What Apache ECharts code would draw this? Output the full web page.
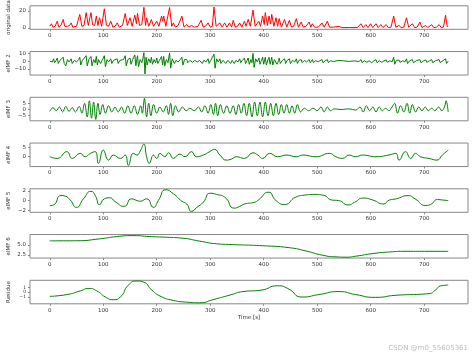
<!DOCTYPE html>
<html><head><meta charset="utf-8">
<script src="https://cdn.jsdelivr.net/npm/echarts@6/dist/echarts.min.js"></script>
<style>html,body{margin:0;padding:0;background:#fff}#c{width:474px;height:355px}</style>
</head><body><div id="c"></div>
<script>
const xTicks = [0,100,200,300,400,500,600,700];
const panelNames = ['original data','eIMF 2','eIMF 3','eIMF 4','eIMF 5','eIMF 6','Residue'];
const yRanges = [[-1.5,26],[-17.8,12.3],[-9.1,9.8],[-5.2,7.25],[-2.4,2.4],[1.75,7.5],[-2.5,2.5]];
const yTicks = [[0,20],[-10,0,10],[-5,0,5],[0,5],[-2,0,2],[2.5,5.0],[-2,-1,0,1,2]];

const originalData = [[0,2],[3,5],[6,1],[10,2],[14,8],[17,1],[21,3],[25,10],[28,2],[33,2],[37,3],[40,6],[43,1],[50,2],[56,16],[60,2],[64,3],[68,18],[72,3],[77,18],[80,4],[84,3],[87,14],[90,3],[93,12],[97,2],[102,22.5],[106,3],[110,2],[114,8],[118,1],[122,2],[126,6],[130,1],[136,3],[141,17],[145,3],[150,12],[154,2],[159,15],[162,5],[164,17],[168,3],[172,4],[176,24.2],[179,3],[181,12],[185,2],[190,10],[194,2],[200,8],[204,2],[209,14],[211,8],[213,14],[217,2],[220,3],[224,24],[228,2],[231,6],[235,1],[240,3],[247,14],[251,1],[256,4],[260,1],[265,3],[270,1],[277,2],[283,9],[287,1],[291,2],[296,6],[300,1],[304,2],[307,24.6],[311,2],[318,6],[322,1],[327,6],[331,1],[336,6],[340,1],[343,9],[347,1],[351,2],[355,6],[359,1],[364,8],[367,2],[371,10],[375,2],[380,21],[384,2],[391,8],[394,2],[398,14],[401,4],[403,18],[407,3],[410,14],[413,5],[415,16],[419,2],[423,12],[426,2],[429,11],[433,1],[439,10],[443,1],[448,9],[452,1],[456,2],[461,11],[465,1],[470,7],[474,1],[479,2],[485,7],[488,1],[491,5],[495,1],[502,1],[509,6],[513,1],[519,8],[523,1],[530,1],[541,2],[545,0.5],[560,0.5],[575,0.5],[582,5],[586,0.5],[591,4],[595,0.5],[600,5],[604,0.5],[610,5],[614,0.5],[619,4],[623,0.5],[629,4],[633,0.5],[638,1],[643,14],[647,1],[653,3],[657,0.5],[662,1],[667,12],[671,1],[678,5],[682,0.5],[687,1],[692,7],[696,0.5],[703,3],[707,0.5],[714,4],[718,0.5],[723,1],[728,4],[732,0.5],[736,1],[740,15],[743,2],[745,2]];

const imf2Data = [[0,0],[3,1],[5,-1],[7,3],[9,-2],[12,1],[14,4],[16,-3],[19,1],[22,-1],[25,5],[27,-3],[30,-6],[33,2],[36,-1],[40,3],[42,-3],[46,1],[50,-1],[54,2],[56,5],[58,-5],[61,1],[64,-1],[68,7],[70,-6],[73,2],[77,6],[79,-6],[82,2],[85,-2],[87,6],[89,-5],[91,2],[93,4],[95,-3],[98,1],[102,7],[104,-7],[107,2],[110,-1],[114,3],[116,-3],[119,1],[122,-1],[126,3],[128,-3],[131,1],[134,-1],[138,2],[141,7],[143,-6],[146,2],[150,4],[152,-4],[155,2],[159,8],[161,-6],[163,3],[164,7],[166,-7],[169,2],[172,-2],[174,3],[176,10.9],[178,-16.4],[180,5],[182,-5],[185,3],[188,-2],[190,5],[192,-4],[195,2],[198,-2],[200,4],[202,-3],[205,1],[209,6],[211,-5],[213,6],[215,-6],[218,2],[221,-2],[224,10.5],[226,-9],[229,3],[231,3],[233,-3],[236,1],[240,-1],[244,2],[247,5],[249,-5],[252,2],[256,2],[258,-2],[262,1],[265,1.5],[267,-1.5],[271,1],[276,-1],[280,1],[283,3],[285,-3],[288,1],[292,-1],[296,3],[298,-3],[301,1],[304,-1],[307,9],[309,-9],[312,3],[315,-1],[318,3],[320,-3],[324,1],[327,3],[329,-3],[333,1],[336,3],[338,-3],[341,1],[343,3],[345,-3],[348,1],[352,-1],[355,3],[357,-2],[360,1],[364,4],[366,-3],[369,1],[371,4],[373,-4],[376,2],[378,-2],[380,10],[382,-8],[385,3],[388,-1],[391,4],[393,-4],[396,1],[398,5],[400,-4],[403,5],[405,-5],[408,2],[410,5],[412,-4],[415,5],[417,-5],[420,2],[423,4],[425,-4],[428,1],[429,4],[431,-3],[435,1],[439,3],[441,-3],[444,1],[448,3],[450,-3],[454,1],[458,-1],[461,3],[463,-3],[466,1],[470,2],[472,-2],[476,1],[480,-1],[485,2],[487,-2],[491,2],[493,-2],[497,0.5],[502,-0.5],[509,2],[511,-2],[515,0.5],[519,2],[521,-2],[525,0.5],[530,-0.5],[541,1],[543,-1],[550,0.3],[560,-0.3],[570,0.3],[578,-0.5],[582,2],[584,-2],[588,0.5],[591,1.5],[593,-1.5],[597,0.5],[600,2],[602,-2],[606,0.5],[610,2],[612,-2],[616,0.5],[619,1.5],[621,-1.5],[625,0.5],[629,1.5],[631,-1.5],[636,0.5],[640,-1],[643,5],[645,-4],[648,1],[653,1.5],[655,-1.5],[660,0.5],[664,-1],[667,3],[669,-3],[673,0.5],[678,2],[680,-2],[685,0.5],[692,2],[694,-2],[699,0.5],[703,1.5],[705,-1.5],[710,0.5],[714,2],[716,-2],[721,0.5],[728,2],[730,-2],[735,0.5],[740,3],[742,-3],[745,0]];

const imf3Data = [[0,-1.5],[6,1.5],[12,-1],[18,2],[24,-2],[30,2.5],[36,-1.5],[42,1.5],[48,-2],[55,2.5],[60,-3],[65,5],[70,-6],[74,7],[78,-7],[82,6],[86,-8],[90,5],[94,-4],[99,4],[104,-3],[110,3],[116,-2],[122,2],[128,-2],[134,2],[140,-3],[146,3],[152,-3],[158,3],[164,-4],[170,3],[173,-3],[177,9],[181,-6],[185,5],[189,-5],[194,4],[200,-3],[206,2],[212,-2],[218,3],[222,-4],[226,5],[230,-5],[235,3],[241,-2],[248,2],[255,-1],[262,1],[270,-1],[278,2],[284,-2],[290,3],[296,-3],[301,4],[306,-4],[310,5],[314,-5],[319,4],[325,-3],[331,3],[337,-3],[343,3],[348,-4],[353,4],[358,-3],[363,5],[368,-5],[373,5],[378,-6],[383,6],[388,-5],[393,6],[398,-6],[403,6],[408,-5],[413,5],[418,-5],[423,5],[428,-4],[433,4],[438,-3],[443,4],[448,-3],[453,3],[458,-3],[463,4],[469,-2],[476,1],[484,-1],[492,1],[500,-1],[507,2],[513,-2],[519,2],[525,-1],[532,0.5],[545,0],[560,0.5],[572,-0.5],[580,2],[586,-2],[592,3],[598,-1],[604,2],[610,-2],[616,2],[622,-1],[628,1],[634,-1],[640,2],[645,5],[650,-3],[656,3],[662,-2],[668,5],[673,-3],[678,4],[684,-2],[690,2],[696,-1],[702,2],[708,-1],[714,1],[720,-1],[727,2],[733,-1],[738,2],[741,7],[745,-2]];

const imf4Data = [[0,0],[14,-0.9],[32,2.7],[42,-0.9],[57,1.8],[66,0],[76,1.8],[85,2.7],[91,-3.5],[100,3.5],[110,-1.8],[119,0.9],[132,-0.9],[141,0.9],[147,-4.6],[156,1.8],[163,0.9],[169,3],[176,6.7],[181,0],[186,-3.5],[194,0.9],[200,-0.9],[206,1.8],[215,0],[222,2.1],[231,-0.9],[243,1.4],[253,0],[265,2.7],[274,0],[287,0.9],[299,2.7],[308,3.9],[318,0.9],[330,-1.8],[340,-1.2],[349,0],[364,-0.9],[380,2.1],[389,0.9],[398,-0.9],[411,1.8],[426,0],[442,0.9],[461,0],[473,0.9],[498,0],[523,1.8],[535,0],[547,-0.9],[560,0.9],[572,0],[585,0.9],[610,0],[634,0.9],[647,1.8],[653,-1.8],[665,2.7],[675,-0.9],[684,1.8],[693,0],[709,-0.9],[724,-1.8],[734,0.9],[745,3.5]];

const imf5Data = [[0,-1.04],[7,-0.9],[21,1.04],[29,0.9],[38,0.14],[50,-1.39],[63,0.35],[77,1.88],[85,1.04],[93,-0.83],[102,0.35],[112,0.56],[122,-0.2],[139,-1.18],[153,0.35],[163,0],[169,-0.14],[181,0.35],[194,-1.39],[203,0],[217,2.2],[231,1.4],[247,-0.14],[256,-0.7],[265,-2.2],[275,-1.4],[287,-0.35],[300,1.5],[312,1.25],[327,0.7],[345,-1.55],[355,-1.2],[364,-0.7],[383,-0.35],[390,0.1],[409,1.7],[423,0],[439,-0.8],[460,0.7],[476,1.1],[494,1.25],[511,1.1],[528,0.1],[540,0],[558,-0.9],[570,-0.35],[586,0.5],[604,0.1],[624,-0.7],[635,0.1],[648,0.35],[670,1.0],[683,0.35],[703,-1.0],[712,-0.8],[725,0.2],[735,0.1],[745,0]];

const imf6Data = [[0,5.96],[50,5.98],[93,6.44],[125,7.0],[156,7.24],[187,7.0],[218,6.84],[249,6.6],[280,5.9],[312,5.24],[340,5.05],[398,4.76],[448,4.28],[479,3.48],[510,2.44],[535,2.04],[554,1.96],[572,2.2],[604,2.84],[635,3.24],[666,3.4],[709,3.4],[745,3.4]];

const residueData = [[0,-0.91],[32,-0.54],[57,0.24],[73,0.76],[88,0.24],[104,-1.06],[119,-1.63],[132,-1.06],[147,1.48],[163,2.35],[175,2.13],[191,0.4],[206,-0.84],[231,-1.78],[256,-2.15],[280,-2.28],[305,-1.63],[338,-0.6],[361,0.1],[395,0.4],[426,1.33],[445,0.76],[472,-1.06],[503,-0.54],[541,0.1],[572,-0.54],[609,-1.13],[646,-0.7],[709,-0.33],[721,0.4],[731,1.33],[745,1.48]];

const seriesData = [originalData, imf2Data, imf3Data, imf4Data, imf5Data, imf6Data, residueData];
const colors = ['#ff0000','#008000','#008000','#008000','#008000','#008000','#008000'];
const smoothness = [false, false, 0.4, 0.5, 0.6, 0.6, 0.6];

const font = 'DejaVu Sans';
const tickColor = '#333';
const frameColor = '#888';
const grids = [], xAxes = [], yAxes = [], series = [];
for (let i = 0; i < 7; i++) {
  grids.push({left: 30, width: 438, top: 5.8 + 45.75 * i, height: 23.5, show: true,
    containLabel: false, outerBoundsMode: 'none',
    borderColor: frameColor, borderWidth: 1, backgroundColor: 'transparent'});
  xAxes.push({type: 'value', gridIndex: i, min: -37, max: 782, position: 'bottom',
    axisLine: {show: false, onZero: false}, splitLine: {show: false},
    axisTick: {show: true, length: 2, customValues: xTicks, lineStyle: {color: frameColor, width: 1}},
    axisLabel: {customValues: xTicks, fontSize: 5.5, fontFamily: font, color: tickColor, margin: 3.5},
    name: i === 6 ? 'Time [s]' : '', nameLocation: 'middle', nameGap: 11, nameMoveOverlap: false,
    nameTextStyle: {fontSize: 5.5, fontFamily: font, color: tickColor}});
  const dec = i === 5 ? 1 : 0;
  const fs = i === 6 ? 4.5 : 5.5;
  yAxes.push({type: 'value', gridIndex: i, min: yRanges[i][0], max: yRanges[i][1], position: 'left',
    axisLine: {show: false, onZero: false}, splitLine: {show: false},
    axisTick: {show: true, length: 2, customValues: yTicks[i], lineStyle: {color: frameColor, width: 1}},
    axisLabel: {customValues: yTicks[i], interval: 0, fontSize: fs, fontFamily: font, color: tickColor, margin: 4,
      hideOverlap: false, formatter: v => v.toFixed(dec).replace('-', '\u2212')},
    name: panelNames[i], nameLocation: 'middle', nameRotate: 90, nameGap: 18, nameMoveOverlap: false,
    nameTextStyle: {fontSize: 5.5, fontFamily: font, color: tickColor}});
  series.push({type: 'line', xAxisIndex: i, yAxisIndex: i, data: seriesData[i],
    showSymbol: false, smooth: smoothness[i], lineStyle: {color: colors[i], width: 1},
    itemStyle: {color: colors[i]}, animation: false});
}
const chart = echarts.init(document.getElementById('c'), null, {renderer: 'canvas'});
chart.setOption({
  backgroundColor: '#fff', animation: false,
  grid: grids, xAxis: xAxes, yAxis: yAxes, series: series,
  graphic: [{type: 'text', right: 6, bottom: 3,
    style: {text: 'CSDN @m0_55605361', fontSize: 7, fontFamily: font, fill: '#bbb'}}]
});
</script></body></html>
